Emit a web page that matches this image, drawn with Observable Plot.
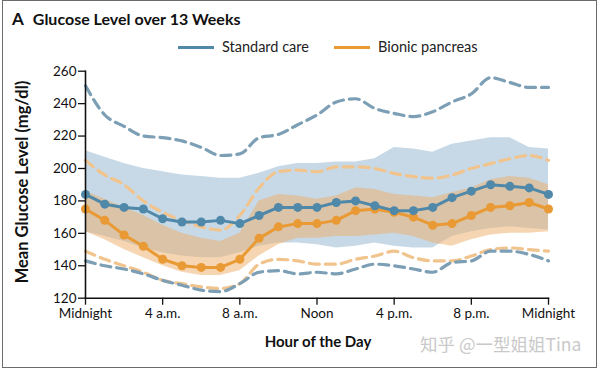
<!DOCTYPE html>
<html>
<head>
<meta charset="utf-8">
<script src="https://cdn.jsdelivr.net/npm/d3@7"></script>
<script src="https://cdn.jsdelivr.net/npm/@observablehq/plot@0.6"></script>
<style>
  html, body { margin: 0; padding: 0; background: #fff; }
  body { width: 600px; height: 375px; position: relative; overflow: hidden; font-family: Lato, "Open Sans", sans-serif; }
  #frame { position: absolute; left: 2px; top: 0px; width: 593px; height: 366px; border: 1.5px solid #6b6b6b; }
  #title { position: absolute; left: 12px; top: 8px; font-size: 16px; font-weight: bold; color: #111; white-space: nowrap; }
  #title .a { margin-right: 9px; font-size: 17px; }
  #legend { position: absolute; left: 178px; top: 38px; font-size: 14.5px; color: #222; white-space: nowrap; }
  #legend .sw { display: inline-block; width: 36px; height: 3px; vertical-align: middle; margin-right: 8px; position: relative; top: -1px; }
  #legend .item { display: inline-block; margin-right: 25px; }
  #chart { position: absolute; left: 0; top: 55px; }
  #ylabel { position: absolute; left: 22px; top: 182px; transform: translate(-50%, -50%) rotate(-90deg); font-size: 16.5px; font-weight: bold; white-space: nowrap; color: #111; }
  #xlabel { position: absolute; left: 318px; top: 341px; transform: translate(-50%, -50%); font-size: 15px; font-weight: bold; white-space: nowrap; color: #111; }
  #wm { position: absolute; left: 420px; top: 331px; font-size: 17.5px; color: #c9c9c9; white-space: nowrap; font-family: "Noto Sans CJK SC", sans-serif; }
</style>
</head>
<body>
<div id="frame"></div>
<div id="title"><span class="a">A</span>Glucose Level over 13 Weeks</div>
<div id="legend"></div>
<div id="chart"></div>
<div id="ylabel">Mean Glucose Level (mg/dl)</div>
<div id="xlabel">Hour of the Day</div>
<div id="wm">知乎 @一型姐姐Tina</div>
<script>
// Hours of the day (0 = midnight ... 24 = midnight)
const hours = d3.range(0, 25);
const xTickHours = [0, 4, 8, 12, 16, 20, 24];
const xTickLabels = ["Midnight", "4 a.m.", "8 a.m.", "Noon", "4 p.m.", "8 p.m.", "Midnight"];
const yTicks = [120, 140, 160, 180, 200, 220, 240, 260];
const seriesNames = ["Standard care", "Bionic pancreas"];

// Standard care
const stdMean  = [184,178,176,175,169,167,167,168,166,171,176,176,176,179,180,177,174,174,176,182,186,190,189,188,184];
const stdQ3    = [211,207,203,200,198,196,195,194,194,197,201,203,203,204,204,206,213,212,210,215,217,219,219,213,212];
const stdQ1    = [161,158,155,151,148,146,145,145,148,152,154,154,153,151,152,154,152,151,151,158,161,163,164,163,162];
const stdHiDash= [251,233,226,220,219,217,213,208,209,219,221,227,233,241,243,237,234,232,235,241,246,256,253,250,250];
const stdLoDash= [143,140,138,135,131,128,125,124,129,136,137,135,136,135,138,141,140,138,136,142,143,149,149,147,143];

// Bionic pancreas
const bioMean  = [175,168,159,152,144,140,139,139,144,157,164,166,166,168,174,175,173,170,165,166,171,176,177,179,175];
const bioQ3    = [186,181,176,171,165,160,157,155,160,180,184,183,181,183,188,187,184,183,182,185,188,193,195,194,190];
const bioQ1    = [161,156,150,145,140,136,134,134,137,146,153,157,157,158,158,159,160,158,154,152,156,159,160,160,161];
const bioHiDash= [205,196,190,180,173,168,164,162,171,188,198,199,198,201,201,200,197,195,194,196,200,203,206,208,205];
const bioLoDash= [149,144,140,136,131,129,127,126,129,141,144,143,141,141,144,146,149,145,143,143,146,150,151,150,149];

const blue = "#4f88a9", orange = "#e99a34";
const blueBand = "#c7d9e7", orangeBand = "#eeae66";
const blueDash = "#7c9fb5", orangeDash = "#f1c48e";

const rows = hours.map((h, i) => ({
  h,
  sMean: stdMean[i], sHi: stdQ3[i], sLo: stdQ1[i], sHiD: stdHiDash[i], sLoD: stdLoDash[i],
  bMean: bioMean[i], bHi: bioQ3[i], bLo: bioQ1[i], bHiD: bioHiDash[i], bLoD: bioLoDash[i]
}));

const dash = {strokeWidth: 3.2, strokeDasharray: "10,6", curve: "monotone-x"};

const chart = Plot.plot({
  width: 600,
  height: 320,
  marginTop: 15.7,
  marginBottom: 77.3,
  marginLeft: 85,
  marginRight: 52,
  style: {fontFamily: "Lato, 'Open Sans', sans-serif", fontSize: "13.5px", color: "#111", background: "transparent", overflow: "visible"},
  x: {domain: [0, 24]},
  y: {domain: [120, 260]},
  marks: [
    Plot.areaY(rows, {x: "h", y1: "sLo", y2: "sHi", fill: blueBand}),
    Plot.areaY(rows, {x: "h", y1: "bLo", y2: "bHi", fill: orangeBand, fillOpacity: 0.5}),
    Plot.lineY(rows, {x: "h", y: "bHiD", stroke: orangeDash, ...dash}),
    Plot.lineY(rows, {x: "h", y: "bLoD", stroke: orangeDash, ...dash}),
    Plot.lineY(rows, {x: "h", y: "sHiD", stroke: blueDash, ...dash}),
    Plot.lineY(rows, {x: "h", y: "sLoD", stroke: blueDash, ...dash}),
    Plot.lineY(rows, {x: "h", y: "bMean", stroke: orange, strokeWidth: 3}),
    Plot.dot(rows, {x: "h", y: "bMean", fill: orange, r: 4.5}),
    Plot.lineY(rows, {x: "h", y: "sMean", stroke: blue, strokeWidth: 3}),
    Plot.dot(rows, {x: "h", y: "sMean", fill: blue, r: 4.5}),
    Plot.axisX({ticks: xTickHours, tickFormat: d => xTickLabels[xTickHours.indexOf(d)], tickSize: 7, tickPadding: 3, label: null, fontSize: 13.5, stroke: "#111", strokeWidth: 1.3}),
    Plot.axisY({ticks: yTicks, tickSize: 7, tickPadding: 2, label: null, fontSize: 13.5, stroke: "#111", strokeWidth: 1.3}),
    Plot.frame({anchor: "left", stroke: "#111", strokeWidth: 1.6}),
    Plot.frame({anchor: "bottom", stroke: "#111", strokeWidth: 1.6})
  ]
});
document.getElementById("chart").appendChild(chart);

const legend = document.getElementById("legend");
[[seriesNames[0], blue], [seriesNames[1], orange]].forEach(([name, c]) => {
  const item = document.createElement("span");
  item.className = "item";
  const sw = document.createElement("span");
  sw.className = "sw";
  sw.style.background = c;
  item.appendChild(sw);
  item.appendChild(document.createTextNode(name));
  legend.appendChild(item);
});
</script>
</body>
</html>
